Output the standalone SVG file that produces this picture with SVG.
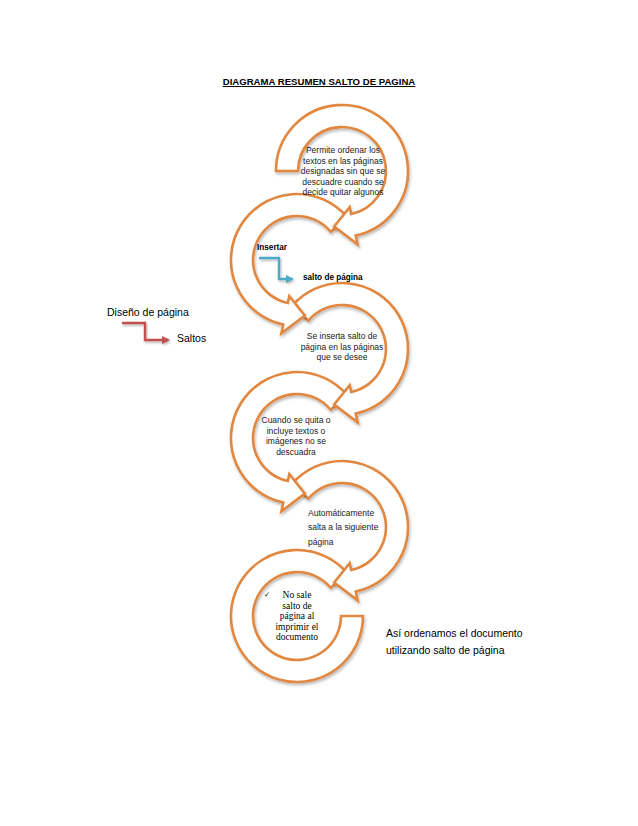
<svg xmlns="http://www.w3.org/2000/svg" width="638" height="826" viewBox="0 0 638 826">
<style>
.ring{fill:#FFFFFF;stroke:#E2873F;stroke-width:2.6;stroke-linejoin:miter;filter:url(#sh)}
.t{font-family:"Liberation Sans",Arial,sans-serif;font-size:8.5px;fill:#1a1a1a}
.tc{text-anchor:middle}
.b{font-family:"Liberation Sans",Arial,sans-serif;font-size:8.2px;font-weight:bold;fill:#000}
.big{font-family:"Liberation Sans",Arial,sans-serif;font-size:10.5px;fill:#000}
.serif{font-family:"Liberation Serif","Times New Roman",serif;font-size:9.5px;fill:#000;text-anchor:middle}
.title{font-family:"Liberation Sans",Arial,sans-serif;font-size:9.6px;font-weight:bold;fill:#000;text-anchor:middle;text-decoration:underline}
.cb{fill:none;stroke:#4BACC6;stroke-width:2.4;filter:url(#sh2)}
.cr{fill:none;stroke:#C0504D;stroke-width:2.4;filter:url(#sh2)}
</style>
<defs>
<filter id="sh" x="-20%" y="-20%" width="140%" height="140%">
<feDropShadow dx="1" dy="2" stdDeviation="1.4" flood-color="#000" flood-opacity="0.28"/>
</filter>
<filter id="sh2" x="-20%" y="-40%" width="140%" height="180%">
<feDropShadow dx="1" dy="1.5" stdDeviation="1" flood-color="#000" flood-opacity="0.3"/>
</filter>
<marker id="mb" markerWidth="8" markerHeight="8" refX="6" refY="4" orient="auto" markerUnits="userSpaceOnUse">
<path d="M0,0 L8,4 L0,8 Z" fill="#4BACC6"/>
</marker>
<marker id="mr" markerWidth="8" markerHeight="8" refX="6" refY="4" orient="auto" markerUnits="userSpaceOnUse">
<path d="M0,0 L8,4 L0,8 Z" fill="#C0504D"/>
</marker>
</defs>
<rect width="638" height="826" fill="#FFFFFF"/>

<g id="title">
<text class="title" x="319" y="85">DIAGRAMA RESUMEN SALTO DE PAGINA</text>
</g>

<g id="node6">
<path class="ring" d="M347.56,573.58 A66,66 0 1 0 363,616 L341,616 A44,44 0 1 1 330.70,587.72 Z"/>
<text class="t" x="264" y="597" style="font-family:'DejaVu Sans',sans-serif;font-size:7.5px">✓</text>
<text class="serif" x="297" y="598">No sale</text>
<text class="serif" x="297" y="608.5">salto de</text>
<text class="serif" x="297" y="619">página al</text>
<text class="serif" x="297" y="629.5">imprimir el</text>
<text class="serif" x="297" y="640">documento</text>
</g>

<g id="node5">
<path class="ring" d="M291.44,484.58 A66,66 0 1 1 355.72,591.55 L357.59,600.36 L334.20,582.46 L349.69,563.19 L351.15,570.04 A44,44 0 1 0 308.30,498.72 Z"/>
<text class="t" x="308" y="515.5">Automáticamente</text>
<text class="t" x="308" y="530">salta a la siguiente</text>
<text class="t" x="308" y="544.5">página</text>
</g>

<g id="node4">
<path class="ring" d="M347.56,395.58 A66,66 0 1 0 283.28,502.55 L281.41,511.36 L304.80,493.46 L289.31,474.19 L287.85,481.04 A44,44 0 1 1 330.70,409.72 Z"/>
<text class="t tc" x="296" y="423">Cuando se quita o</text>
<text class="t tc" x="296" y="433.5">incluye textos o</text>
<text class="t tc" x="296" y="444">imágenes no se</text>
<text class="t tc" x="296" y="454.5">descuadra</text>
</g>

<g id="node3">
<path class="ring" d="M291.44,306.58 A66,66 0 1 1 355.72,413.55 L357.59,422.36 L334.20,404.46 L349.69,385.19 L351.15,392.04 A44,44 0 1 0 308.30,320.72 Z"/>
<text class="t tc" x="342" y="339">Se inserta salto de</text>
<text class="t tc" x="342" y="349.5">página en las páginas</text>
<text class="t tc" x="342" y="360">que se desee</text>
</g>

<g id="node2">
<path class="ring" d="M347.56,217.58 A66,66 0 1 0 283.28,324.55 L281.41,333.36 L304.80,315.46 L289.31,296.19 L287.85,303.04 A44,44 0 1 1 330.70,231.72 Z"/>
<text class="b" x="257" y="250">Insertar</text>
<text class="b" x="303" y="280">salto de página</text>
</g>

<g id="node1">
<path class="ring" d="M276,171 A66,66 0 1 1 355.72,235.55 L357.59,244.36 L334.20,226.46 L349.69,207.19 L351.15,214.04 A44,44 0 1 0 298,171 Z"/>
<text class="t tc" x="343" y="153">Permite ordenar los</text>
<text class="t tc" x="343" y="163.5">textos en las páginas</text>
<text class="t tc" x="343" y="174">designadas sin que se</text>
<text class="t tc" x="343" y="184.5">descuadre cuando se</text>
<text class="t tc" x="343" y="195">decide quitar algunos</text>
</g>

<g id="side-labels">
<text class="big" x="107" y="316">Diseño de página</text>
<text class="big" x="177" y="342">Saltos</text>
<text class="big" x="386" y="637">Así ordenamos el documento</text>
<text class="big" x="386" y="654">utilizando salto de página</text>
</g>

<g id="connectors">
<path class="cb" d="M259,258 H279 V279 H292" marker-end="url(#mb)"/>
<path class="cr" d="M122,323 H145 V340 H168" marker-end="url(#mr)"/>
</g>
</svg>
